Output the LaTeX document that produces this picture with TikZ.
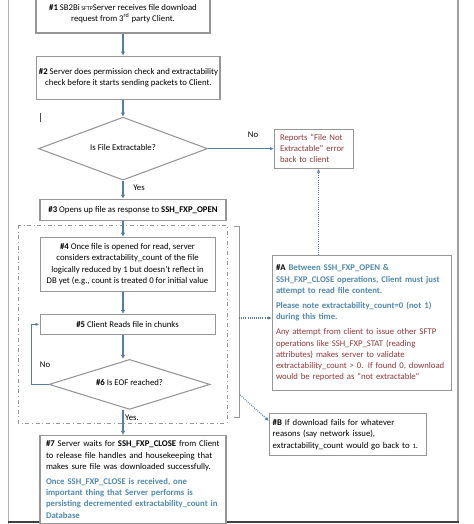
\documentclass[tikz,border=0pt]{standalone}
\usepackage{fontspec}
\setmainfont{Carlito}
\usetikzlibrary{positioning}
\usetikzlibrary{shapes.geometric}
\usetikzlibrary{arrows.meta}

\definecolor{boxgray}{RGB}{150,150,150}
\definecolor{flowblue}{RGB}{84,125,163}
\definecolor{noteblue}{RGB}{79,138,178}
\definecolor{notered}{RGB}{148,54,58}

\tikzset{
  txt/.style={font=\fontsize{6.55}{8.4}\selectfont},
  proc/.style={txt, draw=boxgray, line width=0.8pt, fill=white, align=center, inner sep=1.5pt},
  decision/.style={txt, diamond, draw=boxgray, line width=0.8pt, fill=white, align=center, inner sep=0pt},
  note/.style={proc, align=left, inner xsep=4.5pt},
  lbl/.style={txt, inner sep=1pt},
  flow/.style={draw=flowblue, line width=1.8pt, -{Latex[length=3pt,width=3.5pt]}},
  link/.style={draw=flowblue, line width=0.6pt, -{Latex[length=3pt,width=2.5pt]}},
  hint/.style={link, densely dotted, line width=0.9pt}
}

\begin{document}
\begin{tikzpicture}[x=0.75pt, y=-0.75pt]
  \useasboundingbox (0,0) rectangle (474,524);

  % Page frame
  \draw[gray!60, line width=0.6pt] (8,-2) -- (8,524);
  \draw[gray!75, line width=1.5pt] (458,-2) -- (458,522);
  \draw[black!75, line width=2pt] (8,522) -- (459,522);
  \draw[black!70, line width=0.6pt] (40.5,113) -- (40.5,122);

  % Read loop region
  \draw[boxgray, line width=0.7pt, dash dot] (18,225) rectangle (227,423);
  \draw[boxgray, line width=0.6pt] (234,226) -- (239,226) -- (239,417) -- (234,417);

  % Define nodes
  \node[proc, minimum width=130.5pt, minimum height=28.5pt] (b1) at (123,14)
    {\textbf{\#1} SB2Bi\,{\fontsize{4.5}{5}\selectfont SFTP}Server receives file download\\ request from 3\textsuperscript{rd} party Client.};
  \node[proc, below=16.5pt of b1, xshift=4.1pt, minimum width=137.25pt, minimum height=32.25pt] (b2)
    {\textbf{\#2} Server does permission check and extractability\\ check before it starts sending packets to Client.};
  \node[decision, aspect=2.68, below=12.75pt of b2, xshift=-4.1pt, minimum width=126.75pt, minimum height=47.25pt] (d1)
    {\raisebox{2pt}{Is File Extractable?}};
  \node[proc, below=13.5pt of d1, xshift=7.5pt, minimum width=139.5pt, minimum height=15.75pt] (b3)
    {\textbf{\#3} Opens up file as response to \textbf{SSH\_FXP\_OPEN}};
  \node[proc, below=12pt of b3, xshift=-4.1pt, minimum width=131.25pt, minimum height=40.5pt] (b4)
    {\textbf{\#4} Once file is opened for read, server\\ considers extractability\_count of the file\\ logically reduced by 1 but doesn't reflect in\\ DB yet (e.g., count is treated 0 for initial value};
  \node[proc, below=16.5pt of b4, minimum width=131.25pt, minimum height=15pt] (b5)
    {\textbf{\#5} Client Reads file in chunks};
  \node[decision, aspect=3.22, below=18pt of b5, xshift=1.5pt, minimum width=120.75pt, minimum height=37.5pt] (d6)
    {\raisebox{3pt}{\textbf{\#6} Is EOF reached?}};
  \node[note, below=18.75pt of d6, xshift=2.6pt, text width=130.5pt, minimum height=66pt] (b7)
    {\textbf{\#7} Server waits for \textbf{SSH\_FXP\_CLOSE} from Client\\ to release file handles and housekeeping that\\ makes sure file was downloaded successfully.\\[3pt]
     \textcolor{noteblue}{\textbf{Once SSH\_FXP\_CLOSE is received, one}}\\ \textcolor{noteblue}{\textbf{important thing that Server performs is}}\\ \textcolor{noteblue}{\textbf{persisting decremented extractability\_count in}}\\ \textcolor{noteblue}{\textbf{Database}}};
  \node[note, right=49.5pt of d1, text width=51pt, inner xsep=4.1pt, minimum height=29.25pt, text=notered] (rep)
    {Reports “File Not\\ Extractable” error\\ back to client};
  \node[note, anchor=north west, text width=129pt, inner xsep=2.6pt, minimum height=101.25pt] (bA) at (272,255)
    {\textbf{\#A} \textcolor{noteblue}{\textbf{Between SSH\_FXP\_OPEN \&}}\\ \textcolor{noteblue}{\textbf{SSH\_FXP\_CLOSE operations, Client must just}}\\ \textcolor{noteblue}{\textbf{attempt to read file content.}}\\[3pt]
     \textcolor{noteblue}{\textbf{Please note extractability\_count=0 (not 1)}}\\ \textcolor{noteblue}{\textbf{during this time.}}\\[3pt]
     \textcolor{notered}{Any attempt from client to issue other SFTP}\\ \textcolor{notered}{operations like SSH\_FXP\_STAT (reading}\\ \textcolor{notered}{attributes) makes server to validate}\\ \textcolor{notered}{extractability\_count > 0. If found 0, download}\\ \textcolor{notered}{would be reported as “not extractable”}};
  \node[note, anchor=north west, text width=113pt, inner xsep=2.4pt, minimum height=31.5pt] (bB) at (269,413)
    {\textbf{\#B} If download fails for whatever\\ reasons (say network issue),\\ extractability\_count would go back to {\fontsize{5}{6}\selectfont 1}.};

  % Labels
  \node[lbl] (no1) at (253,135) {No};
  \node[lbl] (yes1) at (139,188) {Yes};
  \node[lbl] (no6) at (45,365) {No};
  \node[lbl] (yes6) at (132,418) {Yes.};

  % Connect the nodes
  \coordinate (spine) at (123,0);
  \draw[flow] (b1.south -| spine) -- (b2.north -| spine);
  \draw[flow] (b2.south -| spine) -- (d1.north);
  \draw[flow] (d1.south) -- (b3.north -| spine);
  \draw[flow] (b3.south -| spine) -- (b4.north -| spine);
  \draw[flow] (b4.south -| spine) -- (b5.north -| spine);
  \draw[flow] (b5.south -| spine) -- (d6.north -| spine);
  \draw[flow] (d6.south -| spine) -- (b7.north -| spine);
  \draw[link] (d1.east) -- (rep.west);
  \draw[link] (d6.west) -- ++(-17,0) |- (b5.west);

  % Hints
  \coordinate (brk) at (239,318);
  \coordinate (brk2) at (240,395);
  \draw[hint] (brk) -- (bA.west |- brk);
  \draw[hint] ([xshift=3.4pt]bA.north -| rep.south) -- ([xshift=3.4pt]rep.south);
  \draw[hint] (brk2) -- ([yshift=-6pt]bB.north west);

\end{tikzpicture}
\end{document}
